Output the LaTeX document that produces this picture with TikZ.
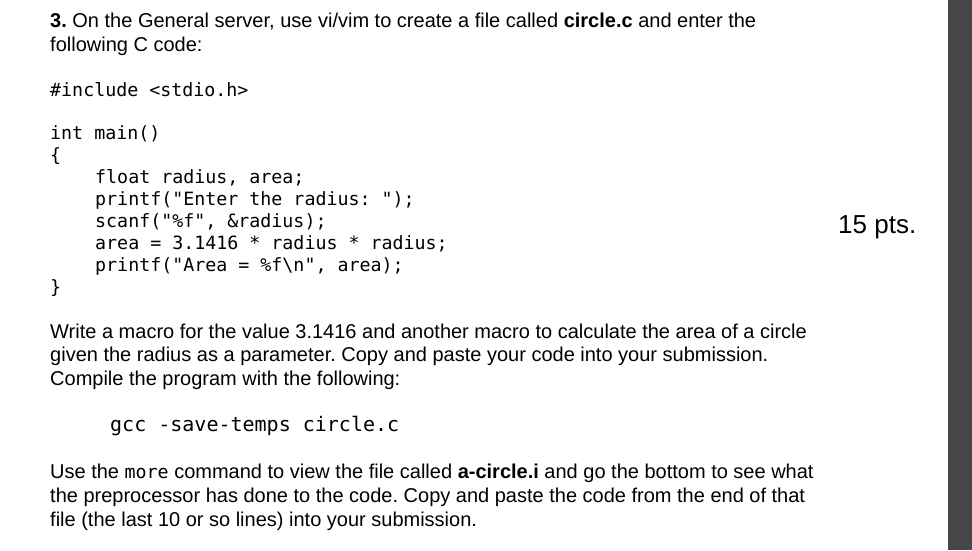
\documentclass[tikz,border=0pt]{standalone}
\usepackage{fontspec}
\setmainfont{Liberation Sans}
\newfontfamily\codefont{DejaVu Sans Mono}
\frenchspacing
\begin{document}
\begin{tikzpicture}[x=1pt,y=-1pt,
  txt/.style={anchor=base west,inner sep=0pt,font=\fontsize{20}{24}\selectfont},
  code/.style={anchor=base west,inner sep=0pt,font=\codefont\fontsize{18.3}{22}\selectfont}]
\useasboundingbox (0,0) rectangle (972,550);
\fill[white] (0,0) rectangle (972,550);
\fill[black!72] (948,0) rectangle (972,550);
\node[txt] (l1) at (50,27) {\textbf{3.} On the General server, use vi/vim to create a file called \textbf{circle.c} and enter the};
\node[txt] (l2) at (50,51) {following C code:};
\node[code] (c1) at (50,96) {\#include <stdio.h>};
\node[code] (c2) at (50,139) {int main()};
\node[code] (c3) at (50,161) {\{};
\node[code] (c4) at (95,183) {float radius, area;};
\node[code] (c5) at (95,205) {printf("Enter the radius: ");};
\node[code] (c6) at (95,227) {scanf("\%f", \&radius);};
\node[code] (c7) at (95,249) {area = 3.1416 * radius * radius;};
\node[code] (c8) at (95,271) {printf("Area = \%f\textbackslash n", area);};
\node[code] (c9) at (50,293) {\}};
\node[anchor=base west,inner sep=0pt,font=\fontsize{26}{30}\selectfont] (pts) at (838,233) {15 pts.};
\node[txt] (w1) at (50,338) {Write a macro for the value 3.1416 and another macro to calculate the area of a circle};
\node[txt] (w2) at (50,361) {given the radius as a parameter. Copy and paste your code into your submission.};
\node[txt] (w3) at (50,385) {Compile the program with the following:};
\node[anchor=base west,inner sep=0pt,font=\codefont\fontsize{20}{24}\selectfont] (g) at (110,431) {gcc -save-temps circle.c};
\node[txt] (u1) at (50,478) {Use the {\codefont\fontsize{18.3}{22}\selectfont more} command to view the file called \textbf{a-circle.i} and go the bottom to see what};
\node[txt] (u2) at (50,502) {the preprocessor has done to the code. Copy and paste the code from the end of that};
\node[txt] (u3) at (50,526) {file (the last 10 or so lines) into your submission.};
\end{tikzpicture}
\end{document}
